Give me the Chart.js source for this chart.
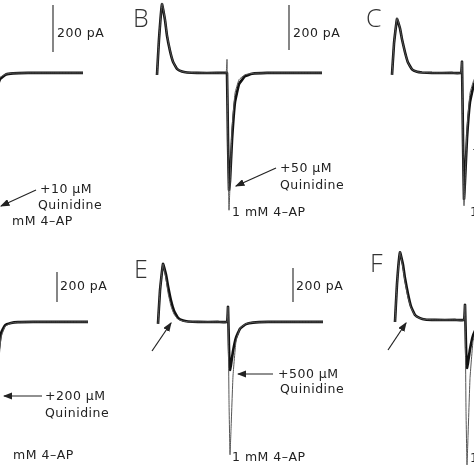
<!DOCTYPE html>
<html><head><meta charset="utf-8">
<script src="https://cdn.jsdelivr.net/npm/chart.js@4/dist/chart.umd.min.js"></script>
<style>
body{margin:0;background:#fff;}
#wrap{position:relative;width:474px;height:474px;overflow:hidden;background:#fff;}
canvas.p{position:absolute;}
.t{position:absolute;font-family:"DejaVu Sans",sans-serif;font-size:12.5px;color:#222;white-space:nowrap;line-height:14px;letter-spacing:0.5px;}
.L{position:absolute;font-family:"Open Sans",sans-serif;font-weight:300;font-size:25px;color:#333;line-height:26px;}
svg{position:absolute;left:0;top:0;}
</style></head><body>
<div id="wrap">
<svg width="474" height="474" id="ov"></svg>
</div>
<script>
// time (ms) from pulse onset
const times = [0,2,5,8,10,13,16,20,25,30,40,60,69,70,71,72,73,75,78,82,88,95,110,130,165];
// currents (pA): control and with quinidine
const ctrlA = [-9,150,311,240,170,100,50,18,6,2,0,0,0,60,-350,-610,-480,-220,-70,-20,-5,-1,0,0,0];
const drugA = [-9,150,308,238,168,100,50,18,6,2,0,0,0,60,-330,-580,-470,-240,-85,-28,-7,-2,0,0,0];
const ctrlB = [-9,150,311,240,170,100,50,18,6,2,0,0,0,60,-350,-610,-500,-250,-90,-30,-8,-2,0,0,0];
const drugB = [-9,150,305,235,165,98,50,18,6,2,0,0,0,0,-300,-520,-480,-300,-130,-50,-15,-4,0,0,0];
const ctrlC = [-9,130,244,200,150,90,45,16,5,2,0,0,0,50,-350,-590,-490,-250,-90,-30,-8,-2,0,0,0];
const drugC = [-9,130,240,198,150,92,46,16,5,2,0,0,0,50,-300,-560,-480,-290,-130,-50,-15,-4,0,0,0];
const ctrlD = [-9,140,258,190,130,70,35,12,4,1,0,0,0,67,-350,-590,-470,-220,-70,-20,-5,-1,0,0,0];
const drugD = [-9,140,258,205,150,90,45,16,5,2,0,0,0,67,-250,-400,-300,-150,-50,-15,-5,-1,0,0,0];
const ctrlE = [-9,140,258,190,130,70,35,12,4,1,0,0,0,67,-350,-590,-480,-240,-85,-28,-8,-2,0,0,0];
const drugE = [-9,140,258,210,160,95,50,18,6,2,0,0,0,67,-120,-213,-190,-130,-70,-30,-10,-3,0,0,0];
const ctrlF = [-9,160,302,230,170,100,55,20,7,2,0,0,0,67,-400,-644,-520,-260,-95,-30,-8,-2,0,0,0];
const drugF = [-9,160,300,245,185,115,60,22,8,2,0,0,0,67,-120,-213,-190,-130,-70,-30,-10,-3,0,0,0];
const panelLetters = ["A","B","C","D","E","F"];

const wrap=document.getElementById('wrap');
const panels=[
 {c:ctrlA,d:drugA,left:-87,top:0},
 {c:ctrlB,d:drugB,left:152,top:0},
 {c:ctrlC,d:drugC,left:387,top:0},
 {c:ctrlD,d:drugD,left:-82,top:249},
 {c:ctrlE,d:drugE,left:153,top:249},
 {c:ctrlF,d:drugF,left:390,top:247}
];
function pts(arr){return times.map((t,i)=>({x:t,y:arr[i]}));}
panels.forEach(p=>{
  const cv=document.createElement('canvas');
  cv.className='p';cv.width=235;cv.height=237;
  cv.style.left=p.left+'px';cv.style.top=p.top+'px';
  cv.style.width='235px';cv.style.height='237px';
  wrap.insertBefore(cv,wrap.firstChild);
  new Chart(cv,{type:'line',
    data:{datasets:[
      {data:pts(p.c),borderColor:'#555',borderWidth:1,pointRadius:0,tension:0.1},
      {data:pts(p.d),borderColor:'#111',borderWidth:2.6,pointRadius:0,tension:0.1}
    ]},
    options:{responsive:false,animation:false,events:[],
      layout:{padding:0},
      plugins:{legend:{display:false},tooltip:{enabled:false}},
      scales:{x:{type:'linear',min:-5,max:230,display:false},
              y:{min:-729,max:324,display:false}}}
  });
});
function txt(s,x,y,cls){const d=document.createElement('div');d.className=cls||'t';d.textContent=s;d.style.left=x+'px';d.style.top=y+'px';wrap.appendChild(d);}
// letters
txt("B",133,4,'L');txt("C",366,4,'L');txt("E",134,255,'L');txt("F",370,249,'L');
// labels
txt("200 pA",57,26);txt("200 pA",293,26);txt("200 pA",60,279);txt("200 pA",296,279);
txt("+10 μM",40,182);txt("Quinidine",38,198);txt("mM 4–AP",12,214);
txt("+50 μM",280,161);txt("Quinidine",280,178);txt("1 mM 4–AP",232,205);
txt("+100 μM",472,143);txt("1 mM 4–AP",470,205);
txt("+200 μM",45,389);txt("Quinidine",45,406);txt("mM 4–AP",13,448);
txt("+500 μM",278,367);txt("Quinidine",280,382);txt("1 mM 4–AP",232,450);txt("1 mM 4–AP",470,451);
// overlay: scale bars and arrows
const ov=document.getElementById('ov');
let s='<defs><marker id="ah" markerWidth="8" markerHeight="6" refX="7" refY="3" orient="auto"><path d="M0,0 L8,3 L0,6 z" fill="#222"/></marker></defs>';
[[53,5,53,52],[289,5,289,50],[57,272,57,302],[293,268,293,302]].forEach(b=>{s+=`<line x1="${b[0]}" y1="${b[1]}" x2="${b[2]}" y2="${b[3]}" stroke="#444" stroke-width="1.3"/>`;});
[[36,190,1,206],[276,168,236,186],[42,396,4,396],[273,374,238,374],[152,351,171,323],[388,350,406,323]].forEach(a=>{s+=`<line x1="${a[0]}" y1="${a[1]}" x2="${a[2]}" y2="${a[3]}" stroke="#222" stroke-width="1.2" marker-end="url(#ah)"/>`;});
ov.innerHTML=s;
</script>
</body></html>
